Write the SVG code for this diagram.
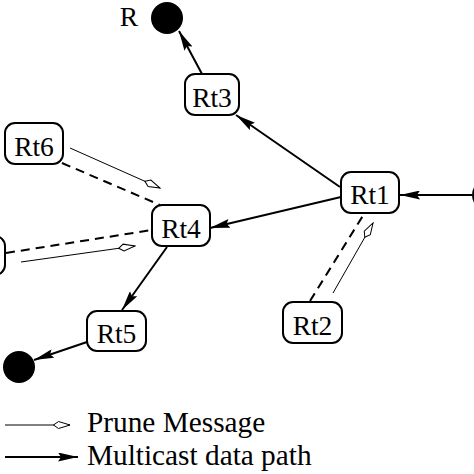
<svg xmlns="http://www.w3.org/2000/svg" width="474" height="474" viewBox="0 0 474 474">
<style>
.box{fill:#fff;stroke:#000;stroke-width:2}
.lbl{font-family:"Liberation Serif","Times New Roman",serif;font-size:27.5px;fill:#000;text-anchor:middle}
.leg{font-family:"Liberation Serif","Times New Roman",serif;font-size:29.3px;fill:#000}
.data{stroke:#000;stroke-width:2;fill:none;marker-end:url(#fa)}
.dash{stroke:#000;stroke-width:2;fill:none;stroke-dasharray:9 6}
.prune{stroke:#000;stroke-width:1;fill:none;marker-end:url(#oa)}
.host{fill:#000}
</style>
<defs>
<marker id="fa" viewBox="0 0 20 9" refX="20" refY="4.5" markerWidth="20" markerHeight="9" markerUnits="userSpaceOnUse" orient="auto">
<path d="M0,0 L20,4.5 L0,9 L3,4.5 Z" fill="#000"/>
</marker>
<marker id="oa" viewBox="-1 -1 19 10" refX="16.5" refY="4" markerWidth="19" markerHeight="10" markerUnits="userSpaceOnUse" orient="auto">
<path d="M0,4 L5,0.5 L16.5,4 L5,7.5 Z" fill="#fff" stroke="#000" stroke-width="1"/>
</marker>
</defs>
<rect width="474" height="474" fill="#fff"/>
<g id="connectors">
<line class="data" x1="472" y1="195" x2="400" y2="195"/>
<line class="data" x1="340" y1="187" x2="236" y2="115"/>
<line class="data" x1="202" y1="74" x2="179" y2="31"/>
<line class="data" x1="341" y1="197" x2="210" y2="228"/>
<line class="data" x1="167" y1="247" x2="122" y2="310"/>
<line class="data" x1="87" y1="342" x2="34" y2="360"/>
<line class="dash" x1="62" y1="163" x2="160" y2="205"/>
<line class="prune" x1="70" y1="148" x2="160" y2="188"/>
<line class="dash" x1="6" y1="253" x2="152" y2="230"/>
<line class="prune" x1="21" y1="262" x2="135" y2="246"/>
<line class="dash" x1="310" y1="301" x2="364" y2="214"/>
<line class="prune" x1="333" y1="293" x2="373" y2="223"/>
</g>
<g id="R">
<circle class="host" cx="167" cy="18" r="16"/>
<text class="lbl" x="129" y="26">R</text>
</g>
<g id="host-right"><circle class="host" cx="488" cy="195" r="16"/></g>
<g id="host-bottom"><circle class="host" cx="19" cy="367" r="16"/></g>
<g id="Rt3"><rect class="box" x="185" y="74" width="54" height="41" rx="10"/><text class="lbl" x="212" y="107">Rt3</text></g>
<g id="Rt6"><rect class="box" x="5" y="123" width="58" height="41" rx="10"/><text class="lbl" x="34" y="156">Rt6</text></g>
<g id="Rt4"><rect class="box" x="152" y="205" width="58" height="41" rx="10"/><text class="lbl" x="181" y="238">Rt4</text></g>
<g id="Rt1"><rect class="box" x="341" y="172" width="58" height="41" rx="10"/><text class="lbl" x="370" y="204">Rt1</text></g>
<g id="Rt5"><rect class="box" x="87" y="311" width="59" height="40" rx="10"/><text class="lbl" x="116.5" y="343">Rt5</text></g>
<g id="Rt2"><rect class="box" x="283" y="302" width="59" height="41" rx="10"/><text class="lbl" x="312.5" y="335">Rt2</text></g>
<g id="Rt7"><rect class="box" x="-53" y="236" width="58" height="39" rx="10"/></g>
<g id="legend">
<line class="prune" x1="5" y1="425" x2="70" y2="425"/>
<text class="leg" x="87" y="432">Prune Message</text>
<line class="data" x1="5" y1="457" x2="78" y2="457"/>
<text class="leg" x="87" y="465">Multicast data path</text>
</g>
</svg>
